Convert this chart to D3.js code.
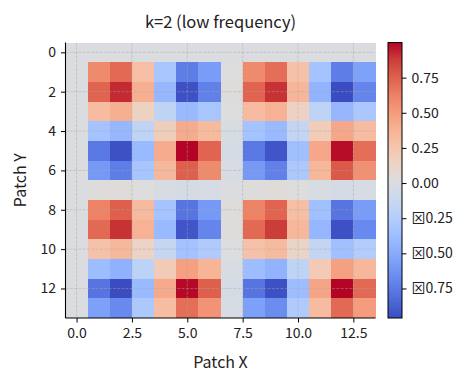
<!DOCTYPE html>
<html>
<head>
<meta charset="utf-8">
<script src="https://cdn.jsdelivr.net/npm/d3@7"></script>
<style>
  body { margin: 0; background: #fff; }
  text { font-family: "Noto Sans CJK KR", "Noto Sans", sans-serif; fill: #222; }
</style>
</head>
<body>
<svg id="chart"></svg>
<script>
const titleText = "k=2 (low frequency)";
const xLabel = "Patch X", yLabel = "Patch Y";
const xTicks = [0, 2.5, 5, 7.5, 10, 12.5];
const yTicks = [0, 2, 4, 6, 8, 10, 12];
const cbTicks = [-0.75, -0.5, -0.25, 0, 0.25, 0.5, 0.75];

// one row per patch y (0..13), one value per patch x (0..13)
const row0  = [0, 0, 0, 0, 0, 0, 0, 0, 0, 0, 0, 0, 0, 0];
const row1  = [0, 0.58, 0.72, 0.30, -0.32, -0.74, -0.58, 0.02, 0.58, 0.70, 0.28, -0.34, -0.74, -0.55];
const row2  = [0, 0.74, 0.92, 0.40, -0.42, -0.94, -0.72, 0.03, 0.74, 0.90, 0.36, -0.44, -0.96, -0.70];
const row3  = [0, 0.32, 0.40, 0.16, -0.18, -0.40, -0.32, 0.02, 0.32, 0.38, 0.15, -0.19, -0.42, -0.30];
const row4  = [0, -0.34, -0.42, -0.18, 0.19, 0.42, 0.33, -0.02, -0.34, -0.40, -0.16, 0.20, 0.44, 0.32];
const row5  = [0, -0.76, -0.94, -0.40, 0.42, 1.00, 0.74, -0.04, -0.76, -0.92, -0.37, 0.44, 0.98, 0.70];
const row6  = [0, -0.60, -0.74, -0.32, 0.34, 0.76, 0.58, -0.03, -0.60, -0.72, -0.29, 0.35, 0.78, 0.55];
const row7  = [0, 0.03, 0.04, 0.02, -0.02, -0.04, -0.03, 0, 0.03, 0.04, 0.02, -0.02, -0.04, -0.03];
const row8  = [0, 0.62, 0.76, 0.33, -0.34, -0.78, -0.60, 0.03, 0.62, 0.74, 0.30, -0.36, -0.78, -0.58];
const row9  = [0, 0.72, 0.90, 0.38, -0.40, -0.92, -0.70, 0.03, 0.72, 0.88, 0.35, -0.42, -0.94, -0.68];
const row10 = [0, 0.28, 0.34, 0.14, -0.15, -0.35, -0.27, 0.01, 0.28, 0.33, 0.13, -0.16, -0.36, -0.26];
const row11 = [0, -0.38, -0.46, -0.20, 0.21, 0.48, 0.37, -0.02, -0.38, -0.45, -0.18, 0.22, 0.48, 0.35];
const row12 = [0, -0.78, -0.96, -0.40, 0.43, 0.99, 0.76, -0.04, -0.78, -0.94, -0.38, 0.45, 1.00, 0.72];
const row13 = [0, -0.56, -0.68, -0.29, 0.31, 0.70, 0.54, -0.03, -0.56, -0.66, -0.27, 0.32, 0.72, 0.50];
const rows = [row0, row1, row2, row3, row4, row5, row6, row7, row8, row9, row10, row11, row12, row13];

// coolwarm (Moreland) control colours
const coolwarm = ["#3b4cc0", "#4d68d7", "#6282ea", "#779af7", "#8db0fe", "#a3c2ff", "#b8d0f9",
  "#ccd9ee", "#dddddd", "#ecd3c5", "#f5c4ac", "#f7b193", "#f49a7b", "#ec7f63", "#de604d", "#cb3e38", "#b40426"];

const width = 474, height = 382;
const marginL = 65.5, marginR = 375.5, marginT = 42.5, marginB = 318;

const svg = d3.select("#chart")
  .attr("width", width)
  .attr("height", height)
  .attr("viewBox", [0, 0, width, height]);

const cells = [];
rows.forEach((r, yi) => r.forEach((v, xi) => cells.push({ x: xi, y: yi, v })));

const ext = d3.extent(cells, d => d.v);
const x = d3.scaleLinear([-0.5, 13.5], [marginL, marginR]);
const y = d3.scaleLinear([-0.5, 13.5], [marginT, marginB]);
const color = d3.scaleLinear()
  .domain(d3.range(coolwarm.length).map(i => ext[0] + (ext[1] - ext[0]) * i / (coolwarm.length - 1)))
  .range(coolwarm)
  .clamp(true);

// heatmap
svg.append("g")
  .selectAll("rect")
  .data(cells)
  .join("rect")
    .attr("x", d => x(d.x - 0.5))
    .attr("y", d => y(d.y - 0.5))
    .attr("width", x(1) - x(0) + 0.4)
    .attr("height", y(1) - y(0) + 0.4)
    .attr("fill", d => color(d.v))
    .attr("shape-rendering", "crispEdges");

// dashed grid on top
const grid = svg.append("g")
  .attr("stroke", "#a8a8a8")
  .attr("stroke-opacity", 0.55)
  .attr("stroke-width", 0.8)
  .attr("stroke-dasharray", "3,1.3");
grid.selectAll(".gx").data(xTicks).join("line")
  .attr("x1", d => x(d)).attr("x2", d => x(d))
  .attr("y1", marginT).attr("y2", marginB);
grid.selectAll(".gy").data(yTicks).join("line")
  .attr("y1", d => y(d)).attr("y2", d => y(d))
  .attr("x1", marginL).attr("x2", marginR);

// axes
const xAxis = svg.append("g")
  .attr("transform", `translate(0,${marginB})`)
  .call(d3.axisBottom(x).tickValues(xTicks).tickFormat(d3.format(".1f")).tickSizeOuter(0).tickSize(4.5).tickPadding(6));
const yAxis = svg.append("g")
  .attr("transform", `translate(${marginL},0)`)
  .call(d3.axisLeft(y).tickValues(yTicks).tickSizeOuter(0).tickSize(4.5).tickPadding(5));

[xAxis, yAxis].forEach(g => {
  g.select(".domain").attr("stroke", "#000").attr("stroke-width", 1.1);
  g.selectAll(".tick line").attr("stroke", "#000").attr("stroke-width", 1);
  g.selectAll(".tick text").style("font-size", "14px").attr("fill", "#222");
});
xAxis.select(".domain").attr("d", `M${marginL},0H${marginR}`);
yAxis.select(".domain").attr("d", `M0,${marginT}V${marginB}`);

svg.append("text")
  .attr("x", (marginL + marginR) / 2)
  .attr("y", 368)
  .attr("text-anchor", "middle")
  .style("font-size", "16px")
  .text(xLabel);

svg.append("text")
  .attr("transform", `translate(26,${(marginT + marginB) / 2}) rotate(-90)`)
  .attr("text-anchor", "middle")
  .style("font-size", "16px")
  .text(yLabel);

svg.append("text")
  .attr("x", (marginL + marginR) / 2)
  .attr("y", 28)
  .attr("text-anchor", "middle")
  .style("font-size", "16.5px")
  .text(titleText);

// colorbar
const cbX = 388, cbW = 14;
const cb = d3.scaleLinear(ext, [marginB, marginT]);
const grad = svg.append("defs").append("linearGradient")
  .attr("id", "cbgrad")
  .attr("x1", 0).attr("y1", 1).attr("x2", 0).attr("y2", 0);
grad.selectAll("stop")
  .data(coolwarm)
  .join("stop")
    .attr("offset", (d, i) => i / (coolwarm.length - 1))
    .attr("stop-color", d => d);

svg.append("rect")
  .attr("x", cbX).attr("y", marginT)
  .attr("width", cbW).attr("height", marginB - marginT)
  .attr("fill", "url(#cbgrad)")
  .attr("stroke", "#000")
  .attr("stroke-width", 1);

const cbAxis = svg.append("g")
  .attr("transform", `translate(${cbX + cbW},0)`)
  .call(d3.axisRight(cb).tickValues(cbTicks).tickSize(4.5).tickPadding(5)
    .tickFormat(d => (d < 0 ? "\u22a0" : "") + d3.format(".2f")(Math.abs(d))));
cbAxis.select(".domain").remove();
cbAxis.selectAll(".tick line").attr("stroke", "#000");
cbAxis.selectAll(".tick text").style("font-size", "14px").attr("fill", "#222");
</script>
</body>
</html>
